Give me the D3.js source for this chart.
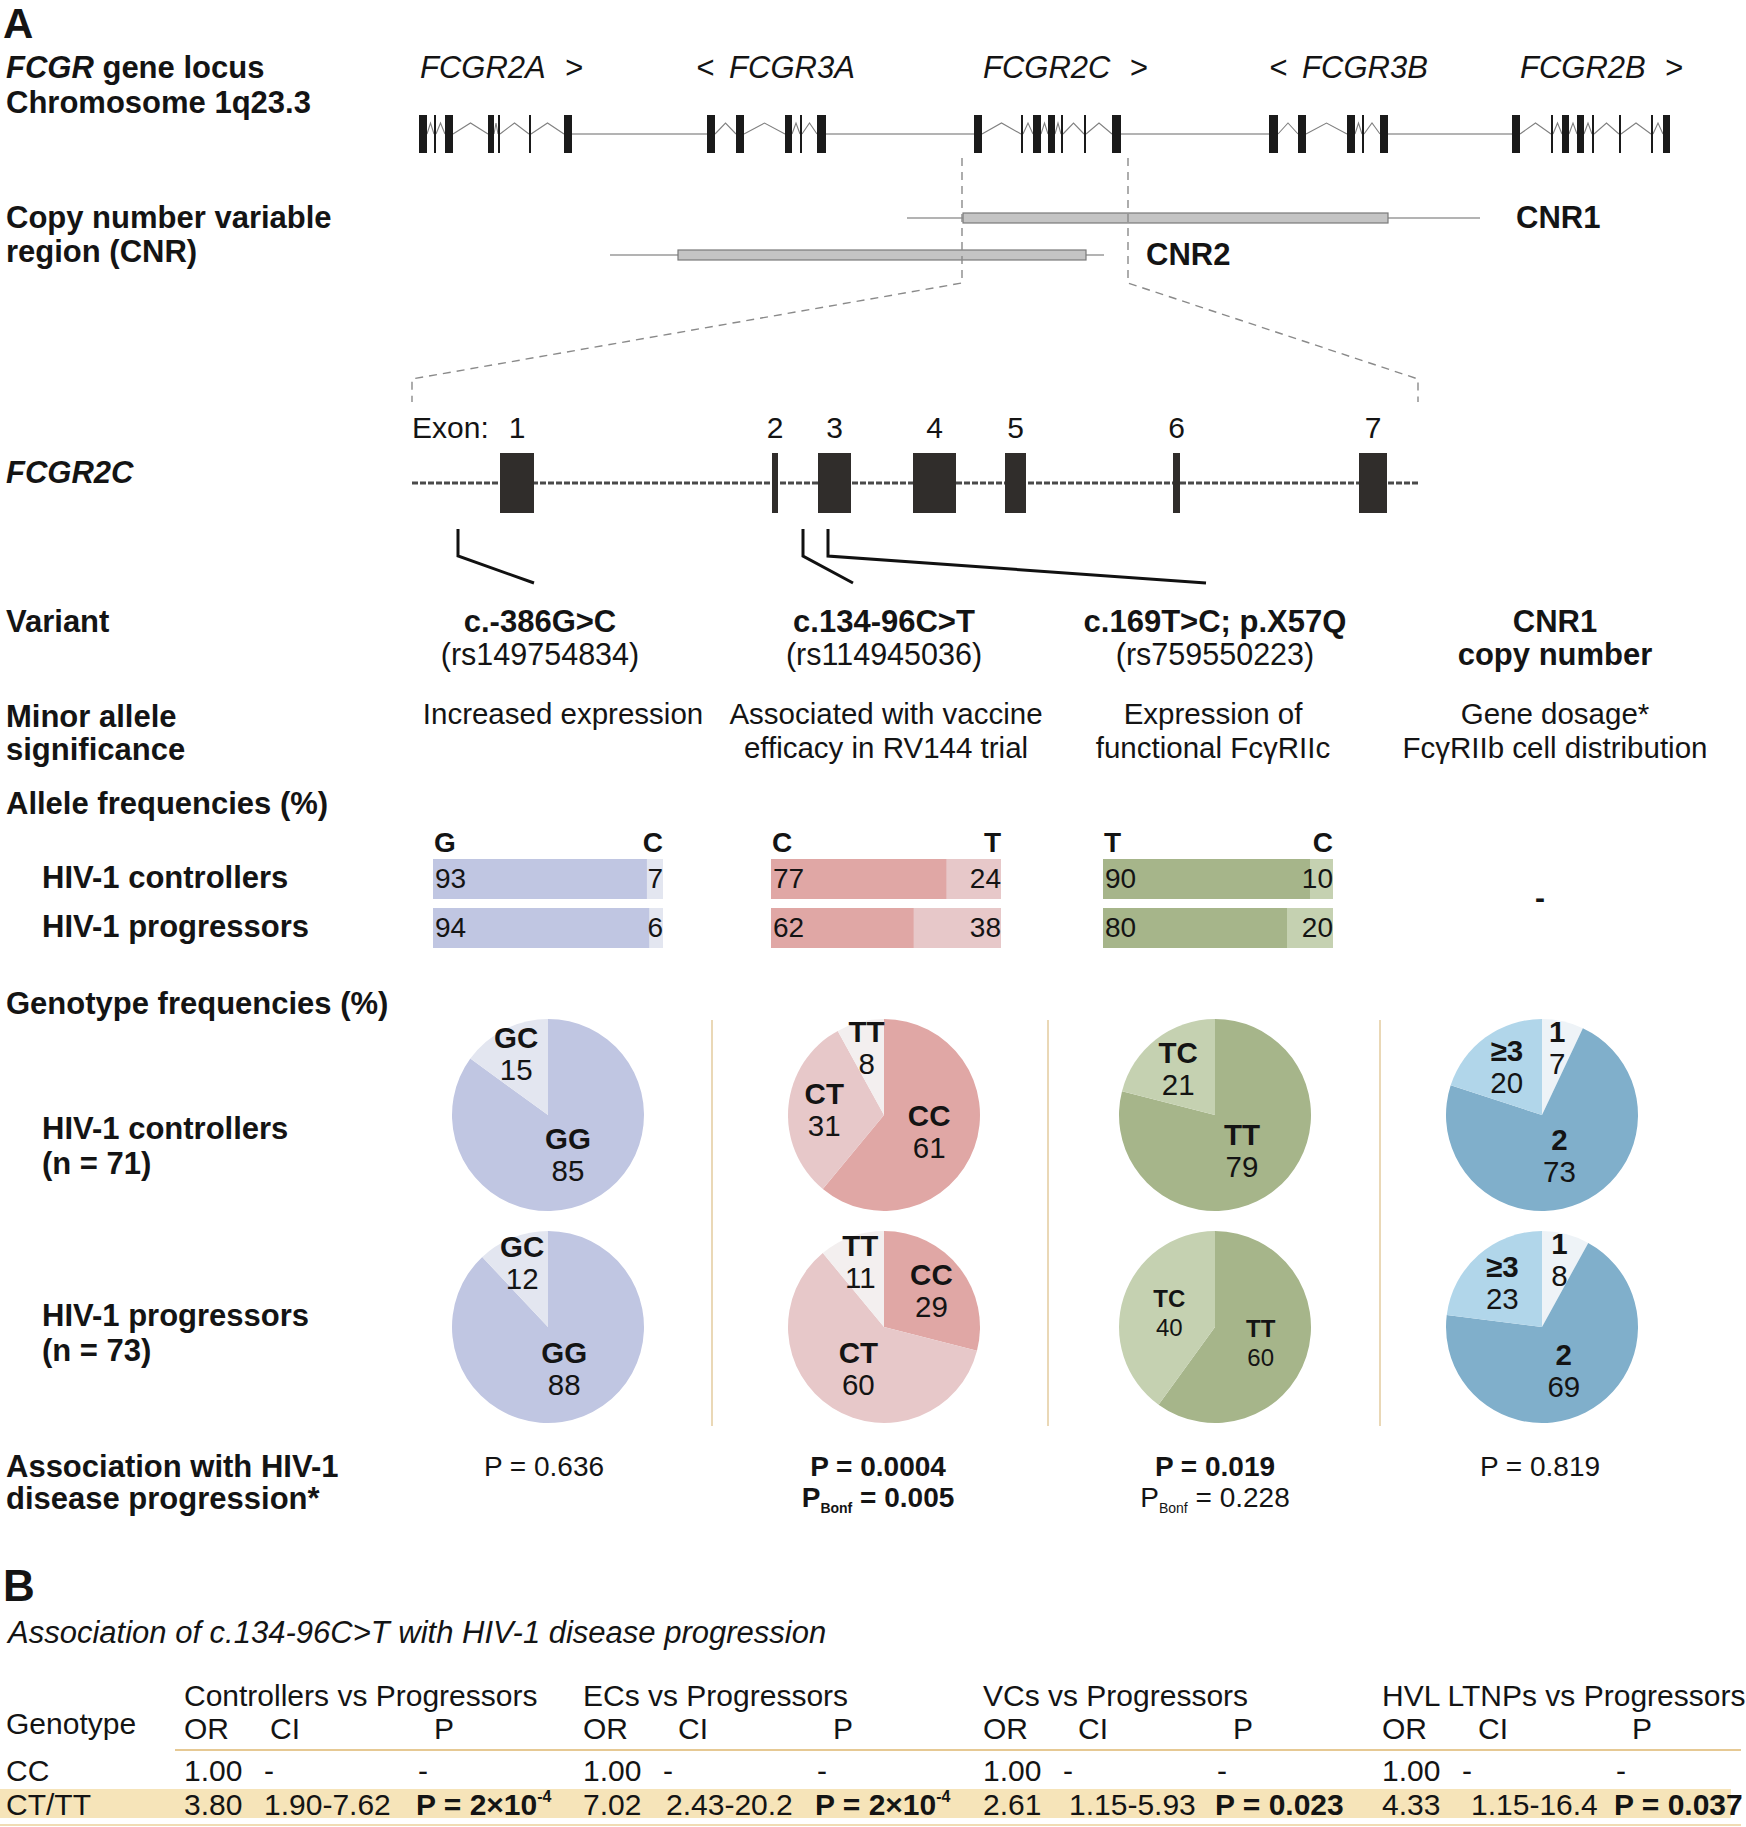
<!DOCTYPE html>
<html><head><meta charset="utf-8">
<script src="https://cdn.jsdelivr.net/npm/d3@7"></script>
<style>body{margin:0;background:#fff}</style></head>
<body><svg id="c"></svg>
<script>
// ---------------- DATA ----------------
const geneNames = ["FCGR2A","FCGR3A","FCGR2C","FCGR3B","FCGR2B"];
const geneStrands = [">","<",">","<",">"];
// exon extents along the locus (arbitrary genomic units)
const geneExons = [
  [[2,10],[17,19],[28,36],[71,77],[81,83],[112,114],[147,155]],
  [[290,298],[319,327],[368,375],[383,385],[400,409]],
  [[557,565],[604,606],[616,624],[631,638],[644,646],[667,669],[695,704]],
  [[852,861],[881,889],[930,938],[945,947],[963,971]],
  [[1095,1103],[1134,1136],[1145,1152],[1160,1167],[1175,1177],[1202,1204],[1234,1236],[1246,1253]]
];
const cnrNames = ["CNR1","CNR2"];
const cnrOuter = [[490,1063],[193,687]];
const cnrInner = [[546,971],[261,669]];
const zoomSpan = [545,711];
const exonLabels = ["1","2","3","4","5","6","7"];
const fcgr2cExons = [[88,122],[360,366],[406,439],[501,544],[593,614],[761,768],[947,975]];
const variantSites = [46,391,416];
const variantNames = ["c.-386G>C","c.134-96C>T","c.169T>C; p.X57Q","CNR1"];
const variantIds = ["(rs149754834)","(rs114945036)","(rs759550223)","copy number"];
const significance = [["Increased expression"],["Associated with vaccine","efficacy in RV144 trial"],["Expression of","functional FcγRIIc"],["Gene dosage*","FcγRIIb cell distribution"]];
const alleleNames = [["G","C"],["C","T"],["T","C"]];
const alleleControllers = [[93,7],[77,24],[90,10]];
const alleleProgressors = [[94,6],[62,38],[80,20]];
const genotypeNames = [["GG","GC"],["CC","CT","TT"],["TT","TC"],["1","2","≥3"]];
const genotypeControllers = [[85,15],[61,31,8],[79,21],[7,73,20]];
const genotypeProgressors = [[88,12],[29,60,11],[60,40],[8,69,23]];
const pMain = ["P = 0.636","P = 0.0004","P = 0.019","P = 0.819"];
const pMainBold = [false,true,true,false];
const pBonf = [null,"0.005","0.228",null];
const pBonfBold = [false,true,false,false];
const tableGroups = ["Controllers vs Progressors","ECs vs Progressors","VCs vs Progressors","HVL LTNPs vs Progressors"];
const tableRows = ["CC","CT/TT"];
const orValues = [["1.00","3.80"],["1.00","7.02"],["1.00","2.61"],["1.00","4.33"]];
const ciValues = [["-","1.90-7.62"],["-","2.43-20.2"],["-","1.15-5.93"],["-","1.15-16.4"]];
const pTable = [["-",["P = 2×10","-4"]],["-",["P = 2×10","-4"]],["-",["P = 0.023",null]],["-",["P = 0.037",null]]];

// palettes
const barColors = [["#c0c6e2","#e3e6f0"],["#e0a7a5","#e7c8c9"],["#a6b58a","#c5d1b1"]];
const pieColors = [["#c0c6e2","#e3e6f0"],["#e0a7a5","#e7c8c9","#f3efef"],["#a6b58a","#c5d1b1"],["#eef3f7","#80afcb","#b1d6ea"]];

// ---------------- LAYOUT ----------------
const W = 1746, H = 1827;
const FONT = "'Liberation Sans', Arial, Helvetica, sans-serif";
const INK = "#141414";
const svg = d3.select("#c").attr("width", W).attr("height", H)
  .attr("font-family", FONT).style("background", "#fff");

function txt(x, y, s, o = {}) {
  const t = svg.append("text").attr("x", x).attr("y", y)
    .attr("font-size", o.size || 30).attr("fill", o.fill || INK)
    .attr("font-weight", o.bold ? "bold" : "normal")
    .attr("font-style", o.italic ? "italic" : "normal")
    .attr("text-anchor", o.anchor || "start").text(s);
  return t;
}

// Panel letters
txt(3, 38, "A", {size: 42, bold: true});
txt(3, 1601, "B", {size: 44, bold: true});

// Left column labels
const L = 6, LS = 31;
const t1 = txt(L, 78, "", {bold: true, size: LS});
t1.append("tspan").attr("font-style", "italic").text("FCGR");
t1.append("tspan").text(" gene locus");
txt(L, 113, "Chromosome 1q23.3", {bold: true, size: LS});
txt(L, 228, "Copy number variable", {bold: true, size: LS});
txt(L, 262, "region (CNR)", {bold: true, size: LS});
txt(L, 483, "FCGR2C", {bold: true, italic: true, size: LS});
txt(L, 632, "Variant", {bold: true, size: LS});
txt(L, 727, "Minor allele", {bold: true, size: LS});
txt(L, 760, "significance", {bold: true, size: LS});
txt(L, 814, "Allele frequencies (%)", {bold: true, size: LS});
txt(42, 888, "HIV-1 controllers", {bold: true, size: LS});
txt(42, 937, "HIV-1 progressors", {bold: true, size: LS});
txt(L, 1014, "Genotype frequencies (%)", {bold: true, size: LS});
txt(42, 1139, "HIV-1 controllers", {bold: true, size: LS});
txt(42, 1174, "(n = 71)", {bold: true, size: LS});
txt(42, 1326, "HIV-1 progressors", {bold: true, size: LS});
txt(42, 1361, "(n = 73)", {bold: true, size: LS});
txt(L, 1477, "Association with HIV-1", {bold: true, size: LS});
txt(L, 1509, "disease progression*", {bold: true, size: LS});

// ---- Gene locus ----
const locusX = d3.scaleLinear().domain([0, 1260]).range([417, 1677]);
const exTop = 115, exBot = 153, exMid = 134, peak = 123;
const labelOffset = [1, -11, 9, 0, 8];
for (let g = 0; g < geneExons.length - 1; g++) {
  const a = geneExons[g][geneExons[g].length - 1][1], b = geneExons[g + 1][0][0];
  svg.append("line").attr("x1", locusX(a)).attr("x2", locusX(b))
    .attr("y1", exMid).attr("y2", exMid).attr("stroke", "#9a9a9a").attr("stroke-width", 1.6);
}
geneExons.forEach((ex, g) => {
  for (let i = 0; i < ex.length - 1; i++) {
    const a = locusX(ex[i][1]), b = locusX(ex[i + 1][0]);
    svg.append("path").attr("d", `M${a},${exMid}L${(a + b) / 2},${peak}L${b},${exMid}`)
      .attr("fill", "none").attr("stroke", "#808080").attr("stroke-width", 1.1);
  }
  svg.selectAll(null).data(ex).enter().append("rect")
    .attr("x", d => locusX(d[0])).attr("width", d => Math.max(2, locusX(d[1]) - locusX(d[0])))
    .attr("y", exTop).attr("height", exBot - exTop).attr("fill", "#1a1a1a");
  const x0 = locusX(ex[0][0]) + labelOffset[g];
  if (geneStrands[g] === ">") {
    const t = txt(x0, 78, geneNames[g], {italic: true, size: 31});
    t.append("tspan").attr("dx", 19).text(">");
  } else {
    const t = txt(x0, 78, "<", {italic: true, size: 31});
    t.append("tspan").attr("dx", 15).text(geneNames[g]);
  }
});

// CNR bars
const cnrY = [218, 255];
cnrNames.forEach((n, i) => {
  svg.append("line").attr("x1", locusX(cnrOuter[i][0])).attr("x2", locusX(cnrOuter[i][1]))
    .attr("y1", cnrY[i]).attr("y2", cnrY[i]).attr("stroke", "#9a9a9a").attr("stroke-width", 1.4);
  svg.append("rect").attr("x", locusX(cnrInner[i][0])).attr("width", locusX(cnrInner[i][1]) - locusX(cnrInner[i][0]))
    .attr("y", cnrY[i] - 5).attr("height", 10).attr("fill", "#c4c4c4").attr("stroke", "#7a7a7a").attr("stroke-width", 1.2);
});
txt(1516, 228, cnrNames[0], {bold: true, size: 31});
txt(1146, 265, cnrNames[1], {bold: true, size: 31});

// zoom guides
const detailX = d3.scaleLinear().domain([0, 1006]).range([412, 1418]);
const gL = locusX(zoomSpan[0]), gR = locusX(zoomSpan[1]);
const guide = `M${gL},158L${gL},283L${detailX(0)},379L${detailX(0)},402M${gR},158L${gR},283L${detailX(1006)},379L${detailX(1006)},402`;
svg.append("path").attr("d", guide).attr("fill", "none").attr("stroke", "#8a8a8a")
  .attr("stroke-width", 1.4).attr("stroke-dasharray", "8,6");

// ---- FCGR2C detail ----
svg.append("line").attr("x1", detailX(0)).attr("x2", detailX(1006)).attr("y1", 483).attr("y2", 483)
  .attr("stroke", "#4a4a4a").attr("stroke-width", 3).attr("stroke-dasharray", "6,2");
svg.selectAll(null).data(fcgr2cExons).enter().append("rect")
  .attr("x", d => detailX(d[0])).attr("width", d => detailX(d[1]) - detailX(d[0]))
  .attr("y", 453).attr("height", 60).attr("fill", "#302d2b");
txt(detailX(0), 438, "Exon:");
fcgr2cExons.forEach((d, i) => txt(detailX((d[0] + d[1]) / 2), 438, exonLabels[i], {anchor: "middle"}));

const colX = [540, 884, 1215, 1555];
const pointerEnd = [534, 853, 1206];
variantSites.forEach((v, i) => {
  const x = detailX(v);
  svg.append("path").attr("d", `M${x},529L${x},556L${pointerEnd[i]},583`)
    .attr("fill", "none").attr("stroke", "#111").attr("stroke-width", 3);
});

variantNames.forEach((n, i) => {
  txt(colX[i], 632, n, {bold: true, anchor: "middle", size: 31});
  txt(colX[i], 665, variantIds[i], {bold: i === 3, anchor: "middle", size: i === 3 ? 31 : 30.5});
});
const sigX = [563, 886, 1213, 1555];
significance.forEach((lines, i) => lines.forEach((s, j) =>
  txt(sigX[i], 724 + j * 34, s, {anchor: "middle", size: 29.5})));

// ---- Allele frequency bars ----
const barX = [433, 771, 1103];
const bw = d3.scaleLinear().domain([0, 100]).range([0, 230]);
const barRows = [{vals: alleleControllers, y: 859}, {vals: alleleProgressors, y: 908}];
alleleNames.forEach((names, i) => {
  txt(barX[i] + 1, 852, names[0], {bold: true, size: 28});
  txt(barX[i] + bw(100), 852, names[1], {bold: true, size: 28, anchor: "end"});
  barRows.forEach(r => {
    const v = r.vals[i];
    const total = v[0] + v[1];
    const sx = d3.scaleLinear().domain([0, total]).range([0, bw(100)]);
    svg.append("rect").attr("x", barX[i]).attr("y", r.y).attr("width", sx(total)).attr("height", 40).attr("fill", barColors[i][1]);
    svg.append("rect").attr("x", barX[i]).attr("y", r.y).attr("width", sx(v[0])).attr("height", 40).attr("fill", barColors[i][0]);
    txt(barX[i] + 2, r.y + 29, v[0], {size: 28});
    txt(barX[i] + bw(100), r.y + 29, v[1], {size: 28, anchor: "end"});
  });
});
txt(1540, 908, "-", {bold: true, anchor: "middle"});

// ---- Pies ----
const pieX = [548, 884, 1215, 1542], pieY = [1115, 1327], R = 96;
const pie = d3.pie().sort(null).value(d => d);
const arc = d3.arc().innerRadius(0).outerRadius(R);
[genotypeControllers, genotypeProgressors].forEach((set, row) => {
  set.forEach((vals, i) => {
    const g = svg.append("g").attr("transform", `translate(${pieX[i]},${pieY[row]})`);
    const arcs = pie(vals);
    const total = d3.sum(vals);
    g.selectAll("path").data(arcs).enter().append("path").attr("d", arc)
      .attr("fill", (d, k) => pieColors[i][k]);
    arcs.forEach((a, k) => {
      const f = vals[k] / total;
      const rr = f < 0.16 ? 70 : (f < 0.4 ? 60 : (f < 0.7 ? 48 : 44));
      const m = (a.startAngle + a.endAngle) / 2;
      const cx = rr * Math.sin(m), cy = -rr * Math.cos(m);
      const fs = (i === 2 && row === 1) ? 24 : 29.5;
      g.append("text").attr("x", cx).attr("y", cy - 5).attr("text-anchor", "middle")
        .attr("font-size", fs).attr("font-weight", "bold").attr("fill", INK).text(genotypeNames[i][k]);
      g.append("text").attr("x", cx).attr("y", cy + (fs > 25 ? 27 : 24)).attr("text-anchor", "middle")
        .attr("font-size", fs).attr("fill", INK).text(vals[k]);
    });
  });
});
[712, 1048, 1380].forEach(x => svg.append("line").attr("x1", x).attr("x2", x).attr("y1", 1020).attr("y2", 1426)
  .attr("stroke", "#ead8b6").attr("stroke-width", 2));

// ---- P values ----
const pX = [544, 878, 1215, 1540];
pMain.forEach((p, i) => {
  txt(pX[i], 1476, p, {bold: pMainBold[i], anchor: "middle", size: 28});
  if (pBonf[i]) {
    const t = txt(pX[i], 1507, "P", {bold: pBonfBold[i], anchor: "middle", size: 28});
    t.append("tspan").attr("font-size", 14).attr("dy", 6).text("Bonf");
    t.append("tspan").attr("font-size", 28).attr("dy", -6).text(" = " + pBonf[i]);
  }
});

// ---- Panel B ----
txt(8, 1643, "Association of c.134-96C>T with HIV-1 disease progression", {italic: true, size: 31});
const grpX = [184, 583, 983, 1382];
const ciHead = [86, 95, 95, 96];
svg.append("rect").attr("x", 0).attr("y", 1789).attr("width", 1731).attr("height", 29).attr("fill", "#f6e4b9");
svg.append("line").attr("x1", 175).attr("x2", 1741).attr("y1", 1750).attr("y2", 1750).attr("stroke", "#e6c994").attr("stroke-width", 2);
svg.append("line").attr("x1", 0).attr("x2", 1741).attr("y1", 1825).attr("y2", 1825).attr("stroke", "#f0dcb4").attr("stroke-width", 2);
txt(6, 1734, "Genotype", {size: 30});
const rowY = [1781, 1815];
tableRows.forEach((r, j) => txt(6, rowY[j], r, {size: 30}));
tableGroups.forEach((gname, i) => {
  const x = grpX[i];
  txt(x, 1706, gname, {size: 30});
  txt(x, 1739, "OR", {size: 30});
  txt(x + ciHead[i], 1739, "CI", {size: 30});
  txt(x + 250, 1739, "P", {size: 30});
  tableRows.forEach((r, j) => {
    txt(x, rowY[j], orValues[i][j], {size: 30});
    txt(x + (j === 0 ? 80 : 80 + i * 3), rowY[j], ciValues[i][j], {size: 30});
    const pv = pTable[i][j];
    if (typeof pv === "string") {
      txt(x + 234, rowY[j], pv, {size: 30});
    } else {
      const t = txt(x + 232, rowY[j], pv[0], {size: 30, bold: true});
      if (pv[1]) t.append("tspan").attr("font-size", 16).attr("dy", -13).text(pv[1]);
    }
  });
});
</script>
</body></html>
